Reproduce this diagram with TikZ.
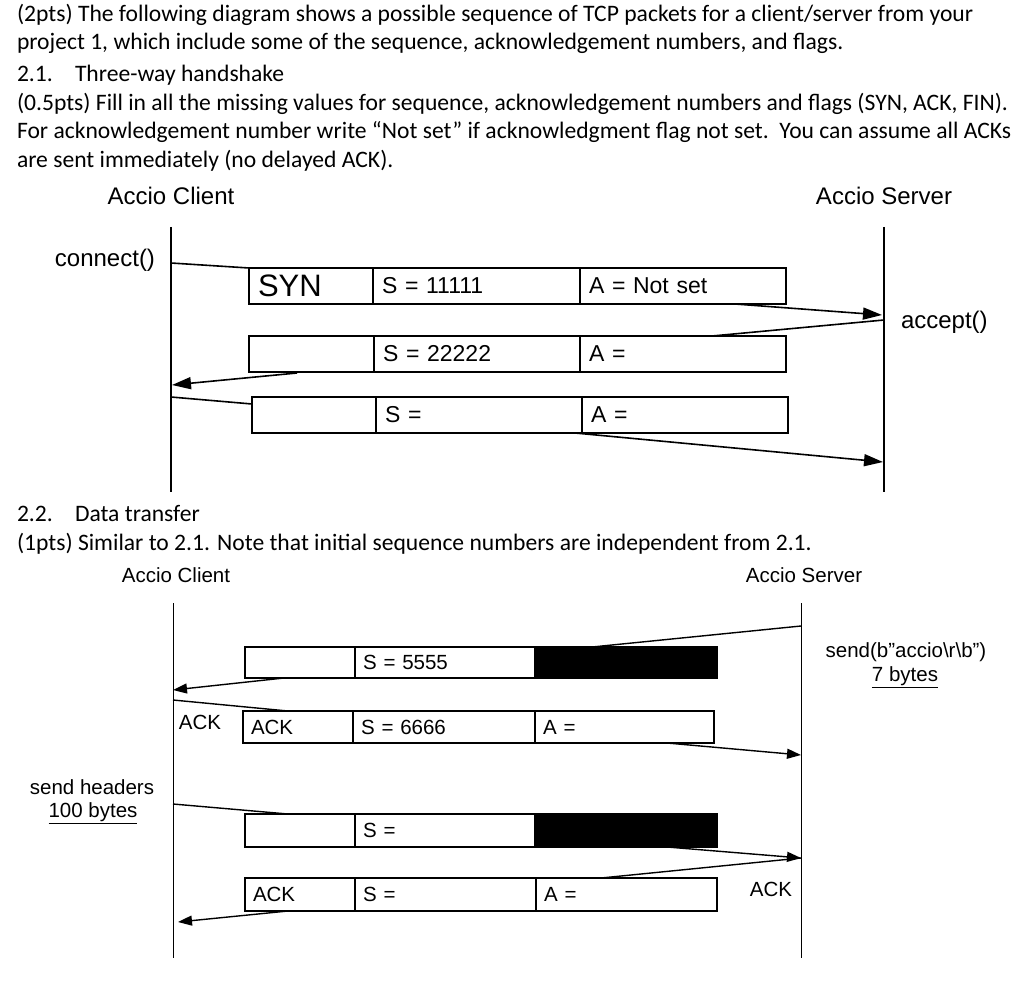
\documentclass[tikz,border=0pt]{standalone}
\usepackage{fontspec}
\setmainfont{Carlito}
\newfontfamily\arial{Liberation Sans}
\usetikzlibrary{positioning, arrows.meta}
\tikzset{>={Triangle[length=19pt,width=12pt]}}

\begin{document}
\begin{tikzpicture}[x=1pt,y=-1pt,
    every node/.style={inner sep=0pt,outer sep=0pt},
    body/.style={anchor=base west,font=\fontsize{23.6}{28}\selectfont},
    actor/.style={font=\arial\fontsize{24}{28}\selectfont},
    actorb/.style={font=\arial\fontsize{20.5}{24}\selectfont},
    field/.style={draw,line width=1.6pt,anchor=north west,minimum height=36pt,inner xsep=9pt,align=left,font=\arial\fontsize{23}{26}\selectfont},
    fieldb/.style={draw,line width=1.1pt,anchor=north west,minimum height=32pt,inner xsep=8pt,align=left,font=\arial\fontsize{20.5}{24}\selectfont},
    life/.style={line width=1.6pt},
    lifeb/.style={line width=0.9pt},
    msg/.style={line width=1.6pt},
    msgb/.style={line width=1.4pt,>={Triangle[length=14pt,width=10pt]}},
    ]
    \useasboundingbox (0,0) rectangle (1024,984);

    % question text
    \node[body] (l1) at (17,22) {(2pts) The following diagram shows a possible sequence of TCP packets for a client/server from your};
    \node[body] (l2) at (17,50) {project 1, which include some of the sequence, acknowledgement numbers, and flags.};
    \node[body] (h21) at (17,82) {2.1.};
    \node[body] (h21t) at (75,82) {Three-way handshake};
    \node[body] (l4) at (17,111) {(0.5pts) Fill in all the missing values for sequence, acknowledgement numbers and flags (SYN, ACK, FIN).};
    \node[body] (l5) at (17,139) {For acknowledgement number write “Not set” if acknowledgment flag not set.\ \ You can assume all ACKs};
    \node[body] (l6) at (17,168) {are sent immediately (no delayed ACK).};

    % handshake
    \node[actor] (client) at (171,196) {Accio Client};
    \node[actor] (server) at (884,196) {Accio Server};
    \coordinate (cT) at (171,227);
    \coordinate (cB) at (171,492);
    \coordinate (sT) at (884,227);
    \coordinate (sB) at (884,492);
    \draw[life] (cT) -- (cB);
    \draw[life] (sT) -- (sB);
    \node[actor,anchor=east] (connect) at (155,260) {connect()};
    \node[actor,anchor=west] (accept) at (901,322) {accept()};

    \node[field,text width=106pt,font=\arial\fontsize{31}{33}\selectfont] (syn) at (249,268) {SYN};
    \node[field,text width=189pt,right=0pt of syn] (seq1) {S = 11111};
    \node[field,text width=188pt,right=0pt of seq1] (ack1) {A = Not set};

    \node[field,text width=107pt] (flg2) at (249,336) {};
    \node[field,text width=188pt,right=0pt of flg2] (seq2) {S = 22222};
    \node[field,text width=188pt,right=0pt of seq2] (ack2) {A =};

    \node[field,text width=106pt] (flg3) at (252,397) {};
    \node[field,text width=188pt,right=0pt of flg3] (seq3) {S =};
    \node[field,text width=188pt,right=0pt of seq3] (ack3) {A =};

    \coordinate (m1a) at (171,263);
    \coordinate (m1b) at (735,304);
    \coordinate (m1c) at (882,315);
    \coordinate (m2a) at (884,320);
    \coordinate (m2b) at (712,336);
    \coordinate (m2c) at (297,373);
    \coordinate (m2d) at (172,385);
    \coordinate (m3a) at (171,397);
    \coordinate (m3b) at (252,404);
    \coordinate (m3c) at (575,433);
    \coordinate (m3d) at (883,462);
    \draw[msg] (m1a) -- (syn.north west);
    \draw[msg] (m2a) -- (m2b);
    \draw[msg] (m3a) -- (m3b);
    \path[msg,->]
        (m1b) edge (m1c)
        (m2c) edge (m2d)
        (m3c) edge (m3d)
    ;

    % data transfer
    \node[body] (h22) at (17,521) {2.2.};
    \node[body] (h22t) at (75,521) {Data transfer};
    \node[body] (l8) at (17,550) {(1pts) Similar to 2.1. Note that initial sequence numbers are independent from 2.1.};

    \node[actorb] (client2) at (176,575) {Accio Client};
    \node[actorb] (server2) at (804,575) {Accio Server};
    \coordinate (cT2) at (173,603);
    \coordinate (cB2) at (173,958);
    \coordinate (sT2) at (801,603);
    \coordinate (sB2) at (801,958);
    \draw[lifeb] (cT2) -- (cB2);
    \draw[lifeb] (sT2) -- (sB2);

    \node[actorb] (send) at (906,652) {send(b”accio\textbackslash r\textbackslash b”)};
    \node[actorb] (sendlen) at (905,677) {\underline{7 bytes}};
    \node[actorb] (hdrs) at (92,787) {send headers};
    \node[actorb] (hdrlen) at (93,813) {\underline{100 bytes}};
    \node[actorb] (ackc) at (200,722) {ACK};
    \node[actorb] (acks) at (771,889) {ACK};

    \node[fieldb,text width=94pt,minimum height=31pt] (flgA) at (245,647) {};
    \node[fieldb,text width=164pt,minimum height=31pt,right=0pt of flgA] (seqA) {S = 5555};
    \node[fieldb,text width=166pt,minimum height=31pt,fill=black,right=0pt of seqA] (datA) {};

    \node[fieldb,text width=94pt] (flgB) at (243,711) {ACK};
    \node[fieldb,text width=166pt,right=0pt of flgB] (seqB) {S = 6666};
    \node[fieldb,text width=163pt,right=0pt of seqB] (ackB) {A =};

    \node[fieldb,text width=94pt,minimum height=33pt] (flgC) at (245,814) {};
    \node[fieldb,text width=164pt,minimum height=33pt,right=0pt of flgC] (seqC) {S =};
    \node[fieldb,text width=166pt,minimum height=33pt,fill=black,right=0pt of seqC] (datC) {};

    \node[fieldb,text width=94pt,minimum height=33pt] (flgD) at (245,878) {ACK};
    \node[fieldb,text width=165pt,minimum height=33pt,right=0pt of flgD] (seqD) {S =};
    \node[fieldb,text width=165pt,minimum height=33pt,right=0pt of seqD] (ackD) {A =};

    \coordinate (n1a) at (801,626);
    \coordinate (n1b) at (592,647);
    \coordinate (n1c) at (284,678);
    \coordinate (n1d) at (173,690);
    \coordinate (n2a) at (173,700);
    \coordinate (n2b) at (288,711);
    \coordinate (n2c) at (667,743);
    \coordinate (n2d) at (801,755);
    \coordinate (n3a) at (173,804);
    \coordinate (n3b) at (288,814);
    \coordinate (n3c) at (667,847);
    \coordinate (n3d) at (801,858);
    \coordinate (n4a) at (801,858);
    \coordinate (n4b) at (601,878);
    \coordinate (n4c) at (288,911);
    \coordinate (n4d) at (178,922);
    \draw[msgb] (n1a) -- (n1b);
    \draw[msgb] (n2a) -- (n2b);
    \draw[msgb] (n3a) -- (n3b);
    \draw[msgb] (n4a) -- (n4b);
    \path[msgb,->]
        (n1c) edge (n1d)
        (n2c) edge (n2d)
        (n3c) edge (n3d)
        (n4c) edge (n4d)
    ;
\end{tikzpicture}
\end{document}
